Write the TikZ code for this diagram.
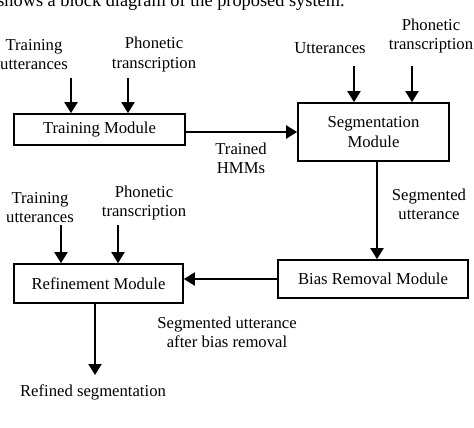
\documentclass[tikz,border=0pt]{standalone}
\usepackage{fontspec}
\setmainfont{Liberation Serif}
\usetikzlibrary{arrows.meta}

\begin{document}
\begin{tikzpicture}[x=0.6pt,y=-0.6pt,
    block/.style={draw,line width=1pt,inner sep=0pt},
    flow/.style={-{Triangle[length=6.6pt,width=7.8pt]},line width=1.2pt},
    lbl/.style={align=center,inner sep=0pt,font=\fontsize{10}{11.5}\selectfont}]

            \useasboundingbox (0,0) rectangle (474,427);

            \node[anchor=base west,inner sep=0pt,font=\fontsize{11}{13}\selectfont] (Text Line) at (-3,6.5) {shows a block diagram of the proposed system.};

            \node[block,minimum width=102.6pt,minimum height=18.6pt,font=\fontsize{10}{11.5}\selectfont] (Training Module) at (99.5,129.5) {Training Module};
            \node[block,minimum width=90.6pt,minimum height=34.8pt,align=center,font=\fontsize{10}{11.5}\selectfont] (Segmentation Module) at (373.5,132) {Segmentation\\Module};
            \node[block,minimum width=114pt,minimum height=22.8pt,font=\fontsize{10}{11.5}\selectfont] (Bias Removal Module) at (373,279) {Bias Removal Module};
            \node[block,minimum width=101.4pt,minimum height=23.4pt,font=\fontsize{10}{11.5}\selectfont] (Refinement Module) at (98.5,283.5) {Refinement Module};

            \node[lbl] (Training Utterances) at (34,54.5) {Training\\utterances};
            \node[lbl] (Training Transcription) at (154,54.5) {Phonetic\\transcription};
            \node[lbl] (Utterances) at (330,48) {Utterances};
            \node[lbl] (Segmentation Transcription) at (431,36) {Phonetic\\transcription};
            \node[lbl] (Trained HMMs) at (241,158) {Trained\\HMMs};
            \node[lbl] (Segmented Utterance) at (429,204.5) {Segmented\\utterance};
            \node[lbl] (Refinement Utterances) at (40,207.5) {Training\\utterances};
            \node[lbl] (Refinement Transcription) at (144,203) {Phonetic\\transcription};
            \node[lbl] (Bias Removed) at (227,332) {Segmented utterance\\after bias removal};
            \node[lbl] (Refined Segmentation) at (93,392) {Refined segmentation};

            \coordinate (tmu) at (71,78);
            \coordinate (tmp) at (128,78);
            \coordinate (smu) at (354,66);
            \coordinate (smp) at (412,66);
            \coordinate (sb) at (377,0);
            \coordinate (rmu) at (61,225);
            \coordinate (rmp) at (118,225);
            \coordinate (rs) at (95,375);

            \draw[flow] (tmu) to (tmu |- Training Module.north);
            \draw[flow] (tmp) to (tmp |- Training Module.north);
            \draw[flow] (smu) to (smu |- Segmentation Module.north);
            \draw[flow] (smp) to (smp |- Segmentation Module.north);
            \draw[flow] (Training Module.east |- Segmentation Module.west) to (Segmentation Module.west);
            \draw[flow] (Segmentation Module.south -| sb) to (Bias Removal Module.north -| sb);
            \draw[flow] (Bias Removal Module.west) to (Bias Removal Module.west -| Refinement Module.east);
            \draw[flow] (rmu) to (rmu |- Refinement Module.north);
            \draw[flow] (rmp) to (rmp |- Refinement Module.north);
            \draw[flow] (Refinement Module.south -| rs) to (rs);
        \end{tikzpicture}
\end{document}
